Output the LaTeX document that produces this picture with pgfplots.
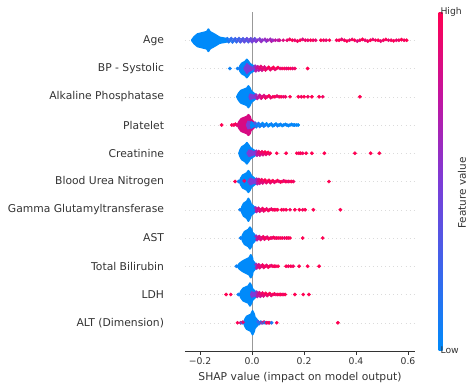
\documentclass[border=0pt]{standalone}
\usepackage{pgfplots}
\pgfplotsset{compat=1.18}
\usepackage{fontspec}
\setmainfont{DejaVu Sans}
\definecolor{shapblue}{RGB}{0,138,250}
\definecolor{shapred}{RGB}{255,0,82}
\definecolor{shappurple}{RGB}{125,60,215}
\definecolor{shapmag}{RGB}{215,10,130}
\definecolor{txt}{RGB}{51,51,51}
\definecolor{zeroline}{RGB}{153,153,153}

\pgfplotstableread{
x y c
-0.095 10.05 0.10
-0.090 9.95 0.10
-0.085 10.00 0.15
-0.080 10.06 0.20
-0.075 9.94 0.15
-0.070 10.00 0.20
-0.065 10.05 0.25
-0.060 9.95 0.20
-0.055 10.00 0.30
-0.050 10.06 0.25
-0.045 9.95 0.30
-0.040 10.00 0.35
-0.035 10.05 0.30
-0.030 9.95 0.40
-0.025 10.00 0.35
-0.020 10.05 0.40
-0.015 9.95 0.30
-0.010 10.00 0.45
-0.005 10.05 0.40
0.000 9.95 0.45
0.005 10.00 0.50
0.010 10.05 0.40
0.015 9.96 0.50
0.020 10.00 0.55
0.030 10.04 0.50
0.035 9.96 0.60
0.040 10.00 0.55
0.050 10.03 0.60
0.055 9.97 0.50
0.060 10.00 0.65
0.070 10.03 0.60
0.075 9.97 0.70
0.080 10.00 0.60
0.090 10.00 0.75
0.100 10.00 0.70
0.106 10.00 0.80
0.120 10.00 0.85
0.135 10.00 0.90
0.145 10.03 0.95
0.155 10.00 1.00
0.165 10.00 0.90
0.175 9.97 0.95
0.185 10.00 1.00
0.195 10.03 0.85
0.205 10.00 0.95
0.215 10.00 0.90
0.225 10.00 1.00
0.235 10.00 0.95
0.245 10.00 0.90
0.265 10.00 1.00
0.275 10.00 0.95
0.285 10.00 0.90
0.298 10.00 1.00
0.325 10.00 0.95
0.335 10.00 1.00
0.345 10.03 0.90
0.355 10.00 0.95
0.365 9.97 1.00
0.375 10.00 0.90
0.385 10.03 0.95
0.395 10.00 1.00
0.405 9.97 0.85
0.415 10.00 0.95
0.425 10.03 1.00
0.435 10.00 0.90
0.445 9.97 0.95
0.455 10.00 1.00
0.465 10.03 0.90
0.475 10.00 0.95
0.485 10.00 1.00
0.495 9.97 0.90
0.505 10.00 0.95
0.515 10.03 1.00
0.525 10.00 0.90
0.535 10.00 0.95
0.545 9.98 1.00
0.555 10.00 0.90
0.565 10.00 0.95
0.575 10.02 1.00
0.585 10.00 0.95
0.595 10.00 1.00
-0.085 9.00 0.05
-0.056 9.00 0.05
-0.048 9.00 0.10
0.012 9.08 0.60
0.015 8.92 0.70
0.018 9.00 0.75
0.022 9.06 0.80
0.026 8.94 0.70
0.030 9.00 0.85
0.034 9.07 0.90
0.038 8.94 0.80
0.042 9.00 0.90
0.048 9.05 0.85
0.052 8.95 0.95
0.058 9.00 0.90
0.064 9.04 1.00
0.070 8.96 0.90
0.076 9.00 0.95
0.082 9.04 1.00
0.088 8.97 0.90
0.094 9.00 0.95
0.100 9.03 1.00
0.108 9.00 0.90
0.116 9.00 0.95
0.124 9.00 1.00
0.132 9.00 0.90
0.140 9.00 0.95
0.148 9.00 1.00
0.156 9.00 0.90
0.165 9.00 0.95
0.214 9.00 1.00
0.015 8.06 0.60
0.020 7.94 0.70
0.025 8.00 0.75
0.030 8.05 0.80
0.035 7.95 0.85
0.040 8.00 0.90
0.046 8.04 0.85
0.052 7.96 0.95
0.058 8.00 0.90
0.065 8.03 1.00
0.072 7.97 0.90
0.080 8.00 0.95
0.088 8.00 1.00
0.096 8.02 0.90
0.104 8.00 0.95
0.112 8.00 1.00
0.120 8.00 0.90
0.128 8.00 0.95
0.146 8.00 1.00
0.178 8.00 1.00
0.190 8.00 0.95
0.200 8.00 1.00
0.215 8.00 0.95
0.230 8.00 1.00
0.258 8.00 1.00
0.272 8.00 0.95
0.415 8.00 1.00
-0.117 7.00 1.00
-0.078 7.00 1.00
-0.070 7.00 0.95
-0.064 7.03 1.00
-0.058 7.00 0.90
0.012 7.06 0.30
0.016 6.94 0.10
0.020 7.00 0.05
0.025 7.05 0.10
0.030 6.95 0.05
0.035 7.00 0.10
0.040 7.05 0.00
0.045 6.96 0.05
0.050 7.00 0.10
0.056 7.04 0.00
0.062 6.97 0.05
0.068 7.00 0.00
0.074 7.03 0.05
0.080 6.97 0.00
0.086 7.00 0.05
0.092 7.03 0.00
0.098 6.98 0.10
0.104 7.00 0.00
0.110 7.02 0.05
0.116 6.98 0.00
0.122 7.00 0.05
0.128 7.02 0.00
0.134 7.00 0.05
0.140 6.98 0.00
0.146 7.00 0.05
0.152 7.02 0.00
0.158 7.00 0.05
0.164 7.00 0.00
0.170 7.00 0.05
0.177 7.00 0.00
0.016 6.07 0.60
0.019 5.93 0.70
0.022 6.00 0.80
0.026 6.06 0.85
0.030 5.94 0.80
0.034 6.00 0.90
0.038 6.05 0.95
0.042 5.95 0.85
0.046 6.00 0.90
0.050 6.04 1.00
0.054 5.96 0.90
0.058 6.00 0.95
0.062 6.03 1.00
0.066 5.98 0.90
0.070 6.00 1.00
0.095 6.00 1.00
0.131 6.00 1.00
0.172 6.00 1.00
0.180 6.00 0.95
0.187 6.00 1.00
0.195 6.00 0.95
0.208 6.00 1.00
0.230 6.00 1.00
0.278 6.00 1.00
0.396 6.00 1.00
0.456 6.00 1.00
0.490 6.00 1.00
-0.065 5.00 1.00
-0.052 5.00 0.05
-0.030 5.02 0.95
0.018 5.08 0.60
0.020 4.92 0.70
0.023 5.00 0.80
0.026 5.07 0.85
0.029 4.94 0.80
0.033 5.00 0.90
0.037 5.06 0.95
0.041 4.95 0.85
0.045 5.00 0.90
0.050 5.05 1.00
0.055 4.96 0.90
0.060 5.00 0.95
0.065 5.04 1.00
0.070 4.96 0.90
0.075 5.00 0.95
0.080 5.03 1.00
0.086 4.97 0.90
0.092 5.00 0.95
0.098 5.03 1.00
0.104 5.00 0.90
0.110 4.98 0.95
0.116 5.00 1.00
0.122 5.02 0.90
0.128 5.00 0.95
0.134 5.00 1.00
0.140 5.00 0.90
0.146 5.00 0.95
0.152 5.00 1.00
0.159 5.00 0.95
0.296 5.00 1.00
-0.046 4.00 0.05
0.014 4.06 0.60
0.017 3.94 0.70
0.020 4.00 0.80
0.025 4.05 0.85
0.030 3.95 0.90
0.035 4.00 0.85
0.040 4.04 0.95
0.045 3.96 0.90
0.050 4.00 1.00
0.056 4.03 0.90
0.062 3.97 0.95
0.068 4.00 1.00
0.074 4.02 0.90
0.080 4.00 0.95
0.086 4.00 1.00
0.092 4.00 0.95
0.098 4.00 1.00
0.114 4.00 1.00
0.122 4.00 0.95
0.131 4.00 1.00
0.146 4.00 0.95
0.165 4.00 1.00
0.182 4.00 1.00
0.195 4.00 0.95
0.204 4.00 1.00
0.236 4.00 1.00
0.340 4.00 1.00
-0.044 3.00 0.05
0.016 3.06 0.60
0.019 2.94 0.70
0.023 3.00 0.80
0.028 3.05 0.85
0.033 2.95 0.90
0.038 3.00 0.85
0.043 3.04 0.95
0.048 2.96 0.90
0.053 3.00 1.00
0.058 3.03 0.90
0.064 2.97 0.95
0.070 3.00 1.00
0.076 3.00 0.90
0.082 3.02 0.95
0.088 3.00 1.00
0.094 3.00 0.90
0.100 3.00 1.00
0.108 3.00 0.95
0.116 3.00 1.00
0.124 3.00 0.90
0.132 3.00 1.00
0.139 3.00 0.95
0.146 3.00 1.00
0.195 3.00 1.00
0.272 3.00 1.00
-0.060 2.00 0.05
0.016 2.06 0.60
0.018 1.94 0.70
0.022 2.00 0.80
0.026 2.05 0.85
0.030 1.95 0.90
0.035 2.00 0.85
0.040 2.04 0.95
0.045 1.96 0.90
0.050 2.00 1.00
0.056 2.03 0.90
0.062 1.97 0.95
0.068 2.00 1.00
0.074 2.02 0.90
0.080 2.00 0.95
0.086 2.00 1.00
0.092 2.00 0.95
0.100 2.00 1.00
0.131 2.00 1.00
0.140 2.00 0.95
0.149 2.00 1.00
0.158 2.00 0.95
0.181 2.00 1.00
0.214 2.00 1.00
0.258 2.00 1.00
-0.100 1.00 1.00
-0.082 1.00 1.00
-0.053 1.00 0.05
0.018 1.08 0.60
0.020 0.93 0.70
0.024 1.00 0.80
0.028 1.06 0.85
0.032 0.94 0.75
0.036 1.00 0.90
0.040 1.05 0.95
0.044 0.95 0.85
0.048 1.00 0.90
0.053 1.04 1.00
0.058 0.96 0.90
0.063 1.00 0.95
0.068 1.03 1.00
0.074 0.97 0.90
0.080 1.00 0.95
0.086 1.02 1.00
0.092 1.00 0.90
0.098 1.00 0.95
0.104 1.00 1.00
0.110 1.00 0.95
0.116 1.00 1.00
0.122 1.00 0.90
0.127 1.00 1.00
0.165 1.00 1.00
0.197 1.00 1.00
0.219 1.00 1.00
-0.056 0.00 1.00
-0.044 0.00 0.85
-0.038 0.00 0.10
-0.035 0.02 0.90
0.024 0.03 0.30
0.027 -0.03 0.10
0.030 0.00 0.20
0.034 0.02 0.05
0.038 0.00 0.80
0.042 0.00 0.10
0.046 0.02 0.90
0.050 0.00 0.05
0.056 0.00 1.00
0.062 0.00 0.90
0.068 0.00 1.00
0.075 0.00 0.10
0.095 0.00 1.00
0.330 0.00 1.00
}\dots

\begin{document}
\begin{tikzpicture}[x=1bp,y=1bp]
\useasboundingbox (-185,-38) rectangle (289,351);
\begin{axis}[
  at={(0,0)}, anchor=south west,
  width=230bp, height=339bp, scale only axis,
  xmin=-0.258, xmax=0.627, ymin=-1, ymax=11,
  axis x line*=bottom, axis y line*=left,
  y axis line style={draw=none},
  x axis line style={color=txt, line width=0.8pt},
  ytick={0,...,10},
  yticklabels={ALT (Dimension), LDH, Total Bilirubin, AST, Gamma Glutamyltransferase, Blood Urea Nitrogen, Creatinine, Platelet, Alkaline Phosphatase, BP - Systolic, Age},
  ymajorgrids,
  grid style={color=gray!28, line width=0.5pt, dash pattern=on 0.6pt off 3.5pt},
  xtick={-0.2,0,0.2,0.4,0.6},
  xticklabels={−0.2,0.0,0.2,0.4,0.6},
  tick align=outside, major tick length=3.5bp,
  xtick style={color=txt, line width=0.8pt},
  ytick style={draw=none},
  x tick label style={font=\fontsize{9.3}{11}\selectfont, text=txt},
  y tick label style={font=\fontsize{10.8}{13}\selectfont, text=txt, xshift=-14bp},
  xlabel={SHAP value (impact on model output)},
  xlabel style={font=\fontsize{10.8}{13}\selectfont, text=txt},
  colormap={shap}{rgb255(0cm)=(0,138,250); rgb255(1cm)=(62,100,235); rgb255(2cm)=(125,60,215); rgb255(3cm)=(195,20,160); rgb255(4cm)=(255,0,82)},
  point meta min=0, point meta max=1,
  colorbar,
  colorbar style={at={(parent axis.north east)}, anchor=north west, xshift=15bp,
    width=4bp, height=338bp, scale only axis, ytick=\empty, xtick=\empty,
    axis line style={draw=none}},
]
\addplot[color=zeroline, line width=0.8pt] coordinates {(0,-1) (0,11)};
% cores
\pgfplotsset{core/.style={draw=#1, fill=#1, line width=1.8pt, line join=round}}
\addplot[core=shapblue] coordinates {(-0.232,10) (-0.2224,10.12) (-0.2096,10.22) (-0.174,10.30) (-0.168,10.39) (-0.162,10.30) (-0.1425,10.2) (-0.125,10.1) (-0.095,10.05) (-0.095,9.95) (-0.125,9.9) (-0.1425,9.8) (-0.162,9.70) (-0.168,9.61) (-0.174,9.70) (-0.2096,9.78) (-0.2224,9.88)} -- cycle;
\addplot[core=shapblue] coordinates {(-0.050,9) (-0.0455,9.1) (-0.0395,9.18) (-0.026,9.25) (-0.020,9.32) (-0.014,9.25) (-0.0081,9.17) (0.0038,9.1) (0.014,9.05) (0.014,8.95) (0.0038,8.9) (-0.0081,8.83) (-0.014,8.75) (-0.020,8.68) (-0.026,8.75) (-0.0395,8.82) (-0.0455,8.9)} -- cycle;
\addplot[core=shappurple, line width=1pt] coordinates {(-0.032,9) (-0.024,9.12) (-0.020,9.18) (-0.014,9.12) (0.0,9.05) (0.010,9) (0.0,8.95) (-0.014,8.88) (-0.020,8.82) (-0.024,8.88)} -- cycle;
\addplot[core=shapblue] coordinates {(-0.058,8) (-0.0514,8.12) (-0.0426,8.22) (-0.020,8.3) (-0.014,8.38) (-0.008,8.3) (-0.0035,8.2) (0.007,8.12) (0.016,8.05) (0.016,7.95) (0.007,7.88) (-0.0035,7.8) (-0.008,7.7) (-0.014,7.62) (-0.020,7.7) (-0.0426,7.78) (-0.0514,7.88)} -- cycle;
\addplot[core=shappurple, line width=1pt] coordinates {(-0.012,8) (-0.008,8.1) (0.004,8.06) (0.017,8.03) (0.017,7.97) (0.004,7.94) (-0.008,7.9)} -- cycle;
\addplot[core=shapmag] coordinates {(-0.056,7) (-0.0497,7.12) (-0.0413,7.22) (-0.020,7.3) (-0.014,7.36) (-0.008,7.3) (-0.0049,7.2) (0.0042,7.12) (0.012,7.05) (0.012,6.95) (0.0042,6.88) (-0.0049,6.8) (-0.008,6.7) (-0.014,6.64) (-0.020,6.7) (-0.0413,6.78) (-0.0497,6.88)} -- cycle;
\addplot[core=shappurple, line width=1pt] coordinates {(-0.022,7) (-0.016,7.14) (-0.008,7.12) (-0.008,6.88) (-0.016,6.86)} -- cycle;
\addplot[core=shapblue, line width=1pt] coordinates {(-0.006,7) (-0.004,7.12) (0.004,7.08) (0.014,7.04) (0.014,6.96) (0.004,6.92) (-0.004,6.88)} -- cycle;
\addplot[core=shapblue] coordinates {(-0.050,6) (-0.0455,6.12) (-0.0395,6.22) (-0.026,6.3) (-0.020,6.37) (-0.014,6.3) (-0.0074,6.2) (0.005,6.12) (0.016,6.05) (0.016,5.95) (0.005,5.88) (-0.0074,5.8) (-0.014,5.7) (-0.020,5.63) (-0.026,5.7) (-0.0395,5.78) (-0.0455,5.88)} -- cycle;
\addplot[core=shappurple, line width=1pt] coordinates {(-0.020,6) (-0.012,6.12) (0.004,6.07) (0.016,6.03) (0.016,5.97) (0.004,5.93) (-0.012,5.88)} -- cycle;
\addplot[core=shapblue] coordinates {(-0.048,5) (-0.0429,5.12) (-0.0361,5.22) (-0.020,5.3) (-0.014,5.38) (-0.008,5.3) (-0.0028,5.2) (0.0084,5.12) (0.018,5.05) (0.018,4.95) (0.0084,4.88) (-0.0028,4.8) (-0.008,4.7) (-0.014,4.62) (-0.020,4.7) (-0.0361,4.78) (-0.0429,4.88)} -- cycle;
\addplot[core=shappurple, line width=1pt] coordinates {(-0.016,5) (-0.008,5.12) (0.006,5.07) (0.018,5.03) (0.018,4.97) (0.006,4.93) (-0.008,4.88)} -- cycle;
\addplot[core=shapblue] coordinates {(-0.042,4) (-0.0378,4.12) (-0.0322,4.22) (-0.020,4.3) (-0.014,4.4) (-0.008,4.3) (-0.0042,4.2) (0.0056,4.12) (0.014,4.05) (0.014,3.95) (0.0056,3.88) (-0.0042,3.8) (-0.008,3.7) (-0.014,3.6) (-0.020,3.7) (-0.0322,3.78) (-0.0378,3.88)} -- cycle;
\addplot[core=shapblue] coordinates {(-0.040,3) (-0.0352,3.12) (-0.0288,3.22) (-0.014,3.3) (-0.008,3.38) (-0.002,3.3) (0.0004,3.2) (0.0088,3.12) (0.016,3.05) (0.016,2.95) (0.0088,2.88) (0.0004,2.8) (-0.002,2.7) (-0.008,2.62) (-0.014,2.7) (-0.0288,2.78) (-0.0352,2.88)} -- cycle;
\addplot[core=shapblue] coordinates {(-0.056,2) (-0.048,2.1) (-0.036,2.18) (-0.011,2.3) (-0.005,2.4) (0.001,2.3) (0.0024,2.2) (0.0097,2.12) (0.016,2.05) (0.016,1.95) (0.0097,1.88) (0.0024,1.8) (0.001,1.7) (-0.005,1.6) (-0.011,1.7) (-0.036,1.82) (-0.048,1.9)} -- cycle;
\addplot[core=shapblue] coordinates {(-0.048,1) (-0.042,1.12) (-0.034,1.22) (-0.014,1.3) (-0.008,1.4) (-0.002,1.3) (0.0011,1.2) (0.0102,1.12) (0.018,1.05) (0.018,0.95) (0.0102,0.88) (0.0011,0.8) (-0.002,0.7) (-0.008,0.6) (-0.014,0.7) (-0.034,0.78) (-0.042,0.88)} -- cycle;
\addplot[core=shappurple, line width=1pt] coordinates {(-0.006,1) (-0.002,1.1) (0.01,1.06) (0.019,1.03) (0.019,0.97) (0.01,0.94) (-0.002,0.9)} -- cycle;
\addplot[core=shapblue] coordinates {(-0.032,0) (-0.0272,0.12) (-0.0208,0.22) (-0.004,0.3) (0.002,0.42) (0.008,0.3) (0.0104,0.2) (0.0178,0.12) (0.024,0.05) (0.024,-0.05) (0.0178,-0.12) (0.0104,-0.2) (0.008,-0.3) (0.002,-0.42) (-0.004,-0.3) (-0.0208,-0.22) (-0.0272,-0.12)} -- cycle;
% dots
\addplot[scatter, only marks, mark=*, mark size=1.7bp, scatter src=explicit,
  scatter/use mapped color={draw=mapped color, fill=mapped color}]
  table[x=x, y=y, meta=c] {\dots};
\end{axis}
\node[anchor=west, text=txt, font=\fontsize{9.3}{11}\selectfont] at (252,339) {High};
\node[anchor=west, text=txt, font=\fontsize{9.3}{11}\selectfont] at (252,1) {Low};
\node[rotate=90, text=txt, font=\fontsize{10.5}{12}\selectfont] at (277,158) {Feature value};
\end{tikzpicture}
\end{document}
